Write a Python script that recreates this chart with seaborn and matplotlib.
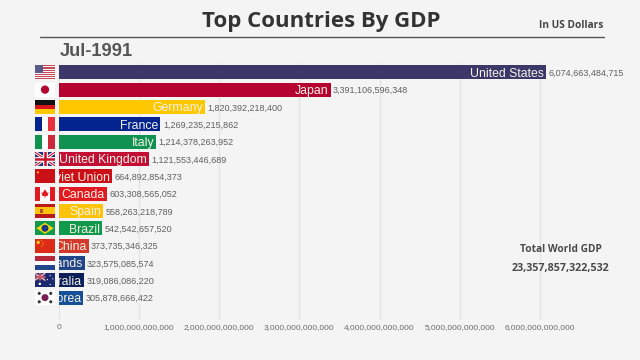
import matplotlib
matplotlib.use("Agg")
import matplotlib.pyplot as plt
from matplotlib.patches import Rectangle, Ellipse, Polygon
import seaborn as sns

countries = ["United States", "Japan", "Germany", "France", "Italy", "United Kingdom",
             "Soviet Union", "Canada", "Spain", "Brazil", "China", "Netherlands",
             "Australia", "South Korea"]
gdp = [6074663484715, 3391106596348, 1820392218400, 1269235215862, 1214378263952,
       1121553446689, 664892854373, 603308565052, 558263218789, 542542657520,
       373735346325, 323575085574, 319086086220, 305878666422]
bar_colors = ["#3b3769", "#b5022f", "#fdc800", "#03248f", "#0f9150", "#c20f33", "#cc1018",
              "#e11a22", "#fdc30b", "#119a4c", "#d33a2c", "#1f4488", "#0b2059", "#174f96"]
x_ticks = [0, 1000000000000, 2000000000000, 3000000000000, 4000000000000,
           5000000000000, 6000000000000]
date_label = "Jul-1991"
total_world = 23357857322532

BG = "#f4f4f4"
W, H = 640, 360
AX_LEFT, AX_TOP, AX_BOTTOM = 58.7, 63, 320
PX_PER_UNIT = 80.2 / 1e12
ROW0, ROW_STEP, BAR_H = 72.3, 17.33, 14

sns.set_theme(style="white")
plt.rcParams["font.family"] = ["Liberation Sans", "DejaVu Sans"]

fig = plt.figure(figsize=(6.4, 3.6), dpi=100, facecolor=BG)
ax = fig.add_axes([AX_LEFT / W, 1 - AX_BOTTOM / H, 1 - AX_LEFT / W, (AX_BOTTOM - AX_TOP) / H],
                  facecolor=BG)

sns.barplot(x=gdp, y=countries, hue=countries, palette=bar_colors, dodge=False, legend=False,
            width=BAR_H / ROW_STEP, saturation=1, orient="h", ax=ax, zorder=3,
            edgecolor="none", linewidth=0)

ax.set_xlim(0, (W - AX_LEFT) / PX_PER_UNIT)
ax.set_ylim((AX_BOTTOM - ROW0) / ROW_STEP, (AX_TOP - ROW0) / ROW_STEP)
ax.set_xticks(x_ticks)
ax.set_xticklabels([f"{v:,}" for v in x_ticks], fontsize=5.95, color="#6a6a6a")
ax.tick_params(axis="x", length=0, pad=3)
ax.set_yticks([])
ax.set_xlabel("")
ax.set_ylabel("")
ax.grid(axis="x", color="#e4e4e4", lw=0.9, zorder=0)
ax.set_axisbelow(True)
sns.despine(ax=ax, left=True, bottom=True, top=True, right=True)

for i, (name, val) in enumerate(zip(countries, gdp)):
    ax.annotate(name, (val, i), xytext=(-1.5, 0), textcoords="offset points", ha="right",
                va="center_baseline", fontsize=8.8, color="#f6f2e6", clip_on=True, zorder=5)
    ax.annotate(f"{val:,}", (val, i), xytext=(1.7, 0), textcoords="offset points", ha="left",
                va="center_baseline", fontsize=6.5, color="#5f5f5f", zorder=5)


# flags, each in a small box of its own left of the bars
def flag_axes(i):
    y = ROW0 + i * ROW_STEP - BAR_H / 2
    fa = fig.add_axes([34.7 / W, 1 - (y + BAR_H) / H, 20.6 / W, BAR_H / H])
    fa.set_xlim(0, 1)
    fa.set_ylim(1, 0)
    fa.axis("off")
    return fa


def stripes_h(fa, cols):
    n = len(cols)
    for k, c in enumerate(cols):
        fa.add_patch(Rectangle((k * 0, k / n), 1, 1 / n, facecolor=c, lw=0))


def stripes_v(fa, cols):
    n = len(cols)
    for k, c in enumerate(cols):
        fa.add_patch(Rectangle((k / n, 0), 1 / n, 1, facecolor=c, lw=0))


def dot(fa, x, y, r, c):
    # circle that stays round in the 20.6 x 14 px box
    fa.add_patch(Ellipse((x, y), 2 * r, 2 * r * 20.6 / 14, facecolor=c, lw=0))


fa = flag_axes(0)
stripes_h(fa, ["#c9485b", "#f5f5f5"] * 6 + ["#c9485b"])
fa.add_patch(Rectangle((0, 0), 0.42, 0.53, facecolor="#5a5a86", lw=0))

fa = flag_axes(1)
stripes_h(fa, ["#ffffff"])
dot(fa, 0.5, 0.5, 0.2, "#b5022f")

stripes_h(flag_axes(2), ["#111111", "#d8161e", "#fdc800"])
stripes_v(flag_axes(3), ["#03248f", "#ffffff", "#e6323e"])
stripes_v(flag_axes(4), ["#0f9150", "#ffffff", "#cd2b3b"])

fa = flag_axes(5)
stripes_h(fa, ["#232f6e"])
for a, b in [((0, 0), (1, 1)), ((0, 1), (1, 0))]:
    fa.plot([a[0], b[0]], [a[1], b[1]], color="white", lw=2.2, solid_capstyle="butt")
    fa.plot([a[0], b[0]], [a[1], b[1]], color="#c8102e", lw=0.8, solid_capstyle="butt")
fa.axvline(0.5, color="white", lw=3.4)
fa.axhline(0.5, color="white", lw=3.4)
fa.axvline(0.5, color="#c8102e", lw=1.8)
fa.axhline(0.5, color="#c8102e", lw=1.8)

fa = flag_axes(6)
stripes_h(fa, ["#cc1018"])
dot(fa, 0.16, 0.22, 0.05, "#f2c230")

fa = flag_axes(7)
stripes_v(fa, ["#e11a22", "#ffffff", "#ffffff", "#e11a22"])
fa.add_patch(Polygon([(0.5, 0.2), (0.62, 0.45), (0.68, 0.42), (0.62, 0.68), (0.52, 0.68),
                      (0.52, 0.8), (0.48, 0.8), (0.48, 0.68), (0.38, 0.68), (0.32, 0.42),
                      (0.38, 0.45)], facecolor="#e11a22", lw=0))

fa = flag_axes(8)
stripes_h(fa, ["#bb1a1a", "#fdc30b", "#fdc30b", "#bb1a1a"])
fa.add_patch(Rectangle((0.24, 0.36), 0.14, 0.28, facecolor="#b5502a", lw=0))

fa = flag_axes(9)
stripes_h(fa, ["#119a4c"])
fa.add_patch(Polygon([(0.08, 0.5), (0.5, 0.1), (0.92, 0.5), (0.5, 0.9)], facecolor="#f5d90a", lw=0))
dot(fa, 0.5, 0.5, 0.17, "#1d3a80")

fa = flag_axes(10)
stripes_h(fa, ["#dc2b16"])
dot(fa, 0.17, 0.27, 0.08, "#f6d21a")
for sx, sy in [(0.33, 0.12), (0.4, 0.27), (0.4, 0.42), (0.33, 0.55)]:
    dot(fa, sx, sy, 0.025, "#f6d21a")

stripes_h(flag_axes(11), ["#b5283c", "#ffffff", "#21468b"])

fa = flag_axes(12)
stripes_h(fa, ["#1b2a70"])
fa.add_patch(Rectangle((0, 0), 0.5, 0.5, facecolor="#3a3f80", lw=0))
fa.plot([0, 0.5], [0, 0.5], color="#e9b9c0", lw=1.0)
fa.plot([0, 0.5], [0.5, 0], color="#e9b9c0", lw=1.0)
fa.plot([0.25, 0.25], [0, 0.5], color="#d2505e", lw=1.2)
fa.plot([0, 0.5], [0.25, 0.25], color="#d2505e", lw=1.2)
dot(fa, 0.25, 0.76, 0.06, "white")
for sx, sy in [(0.75, 0.18), (0.62, 0.45), (0.88, 0.4), (0.75, 0.8)]:
    dot(fa, sx, sy, 0.03, "white")

fa = flag_axes(13)
stripes_h(fa, ["#ffffff"])
dot(fa, 0.5, 0.5, 0.17, "#7a1f55")
fa.add_patch(Rectangle((0.33, 0.5), 0.34, 0.01, facecolor="#1c4a8f", lw=0))
for sx, sy in [(0.22, 0.2), (0.78, 0.2), (0.22, 0.8), (0.78, 0.8)]:
    dot(fa, sx, sy, 0.075, "#333333")


# header and side texts
def fig_text(x, y, s, **kw):
    fig.text(x / W, 1 - y / H, s, ha=kw.pop("ha", "center"), va="center", **kw)


fig_text(321, 21, "Top Countries By GDP", family="Open Sans", fontweight="bold",
         fontsize=16, color="#333333")
fig.add_artist(plt.Line2D([40 / W, 603.7 / W], [1 - 37 / H, 1 - 37 / H], color="#555555", lw=1.0))
fig_text(570.7, 25, "In US Dollars", family="Open Sans", fontweight="bold", fontsize=7.3,
         color="#444444")
fig_text(60, 51.5, date_label, ha="left", fontweight="bold", fontsize=13.2, color="#555555")
fig_text(561, 249.5, "Total World GDP", family="Open Sans", fontweight="bold", fontsize=7.25,
         color="#4a4a4a")
fig_text(561, 269, f"{total_world:,}", family="Open Sans", fontweight="bold", fontsize=7.75,
         color="#4a4a4a")

fig.savefig("out.png", dpi=100, facecolor=BG)
